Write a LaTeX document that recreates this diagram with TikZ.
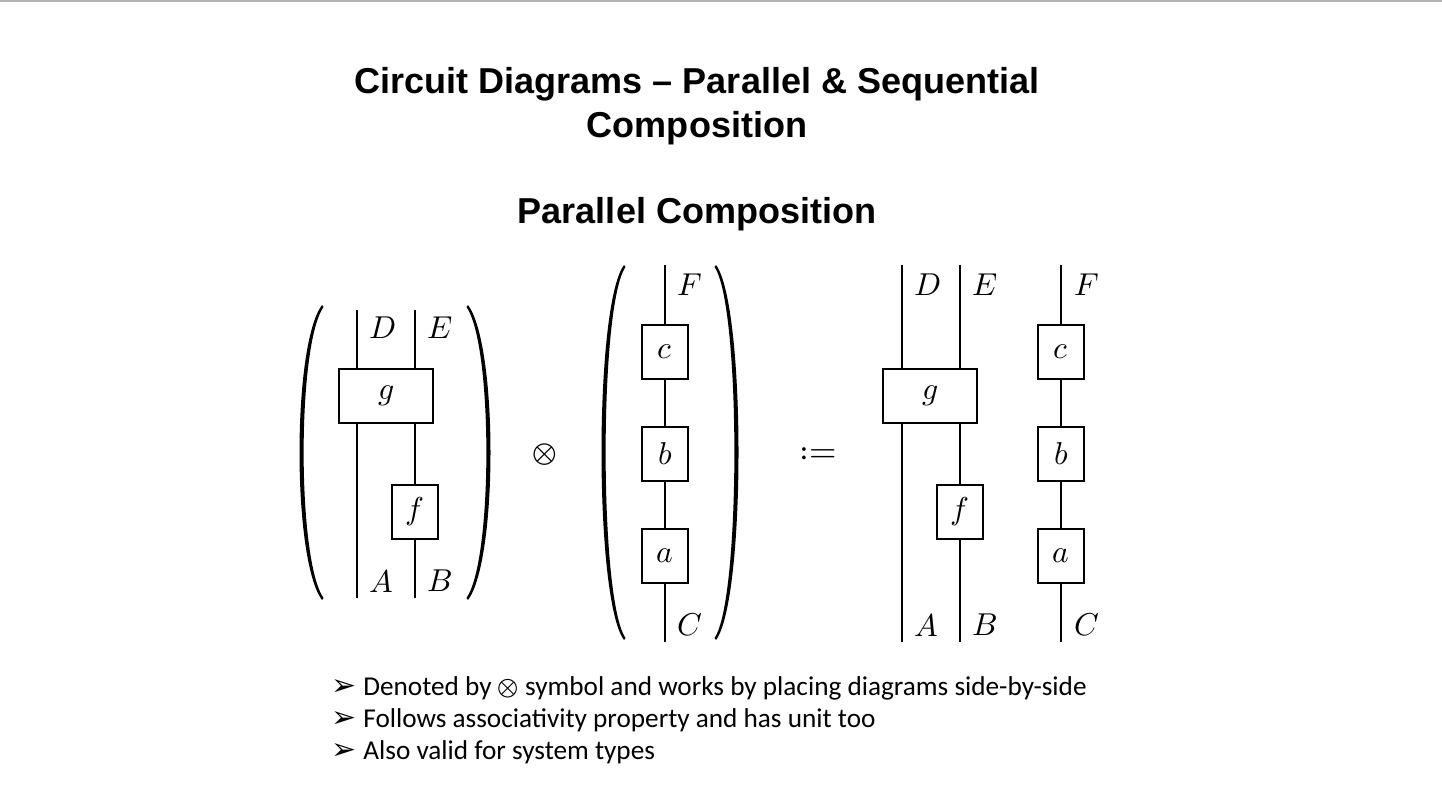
\documentclass[tikz,border=0pt]{standalone}
\usepackage{fontspec}
\setmainfont{Liberation Sans}
\newfontfamily\bodyfont{Carlito}
\newfontfamily\dejavu{DejaVu Sans}
\usepackage{unicode-math}
\setmathfont{Latin Modern Math}
\tikzstyle{boxed} = [rectangle, draw=black, line width=1.2pt, fill=white, minimum width=0.92cm, minimum height=1.08cm, inner sep=0pt, font=\fontsize{18}{20}\selectfont]
\tikzstyle{wide} = [boxed, minimum width=1.88cm]
\tikzstyle{wire} = [line width=1.2pt]
\tikzstyle{lbl} = [font=\fontsize{18}{20}\selectfont, inner sep=0pt]
\tikzstyle{title} = [font=\fontsize{20.5}{25}\selectfont\bfseries, align=center]
\tikzstyle{item} = [font=\fontsize{15.5}{18}\selectfont\bodyfont, anchor=west, inner sep=0pt]
\tikzstyle{paren} = [fill=black]
\newcommand{\leftbrk}[3]{\fill[paren] (#1,#2) .. controls (#1-30,#2+40) and (#1-30,#3-40) .. (#1,#3) -- (#1+1.5,#3-2) .. controls (#1-25,#3-40) and (#1-25,#2+40) .. (#1+1.5,#2+2) -- cycle;}
\newcommand{\rightbrk}[3]{\fill[paren] (#1,#2) .. controls (#1+30,#2+40) and (#1+30,#3-40) .. (#1,#3) -- (#1-1.5,#3-2) .. controls (#1+25,#3-40) and (#1+25,#2+40) .. (#1-1.5,#2+2) -- cycle;}

\begin{document}
\begin{tikzpicture}[x=0.02cm, y=-0.02cm]
		\useasboundingbox (0,0) rectangle (1442,786);
		\draw[gray!60, line width=1pt] (0,1) -- (1442,1);
		
		\node (t1) [title] at (697,106) {Circuit Diagrams – Parallel \& Sequential\\Composition};
		\node (t2) [title] at (697,214) {Parallel Composition};
		
		% left factor
		\coordinate (l1top) at (357,310);
		\coordinate (l1bot) at (357,598);
		\coordinate (l2top) at (415,310);
		\coordinate (l2bot) at (415,598);
		\draw [wire] (l1top) -- (l1bot);
		\draw [wire] (l2top) -- (l2bot);
		\node (g1) [wide] at (386,396) {$g$};
		\node (f1) [boxed] at (415,512) {$f$};
		\node (d1) [lbl] at (383,328) {$D$};
		\node (e1) [lbl] at (440,328) {$E$};
		\node (a1) [lbl] at (381,581) {$A$};
		\node (b1) [lbl] at (440,581) {$B$};
		\leftbrk{322}{305}{600}
		\rightbrk{468}{305}{600}
		
		\node (tensor) [lbl] at (545,455) {$\otimes$};
		
		% middle factor
		\coordinate (mtop) at (665,265);
		\coordinate (mbot) at (665,642);
		\draw [wire] (mtop) -- (mbot);
		\node (c1) [boxed] at (665,352) {$c$};
		\node (bb1) [boxed] at (665,454) {$b$};
		\node (aa1) [boxed] at (665,556) {$a$};
		\node (ff1) [lbl] at (690,285) {$F$};
		\node (cc1) [lbl] at (690,625) {$C$};
		\leftbrk{624}{265}{640}
		\rightbrk{716}{265}{640}
		
		\node (defeq) [lbl, font=\fontsize{20}{22}\selectfont] at (818,455) {$:=$};
		
		% result
		\coordinate (r1top) at (902,265);
		\coordinate (r1bot) at (902,642);
		\coordinate (r2top) at (960,265);
		\coordinate (r2bot) at (960,642);
		\coordinate (r3top) at (1061,265);
		\coordinate (r3bot) at (1061,642);
		\draw [wire] (r1top) -- (r1bot);
		\draw [wire] (r2top) -- (r2bot);
		\draw [wire] (r3top) -- (r3bot);
		\node (g2) [wide] at (930,396) {$g$};
		\node (f2) [boxed] at (960,512) {$f$};
		\node (c2) [boxed] at (1061,352) {$c$};
		\node (bb2) [boxed] at (1061,454) {$b$};
		\node (aa2) [boxed] at (1061,556) {$a$};
		\node (d2) [lbl] at (928,285) {$D$};
		\node (e2) [lbl] at (985,285) {$E$};
		\node (ff2) [lbl] at (1087,285) {$F$};
		\node (a2) [lbl] at (926,625) {$A$};
		\node (b2) [lbl] at (985,625) {$B$};
		\node (cc2) [lbl] at (1087,625) {$C$};
		
		% bullets
		\node (m1) [item] at (331,688) {{\dejavu\fontsize{17}{18}\selectfont ➢}};
		\node (m2) [item] at (331,720) {{\dejavu\fontsize{17}{18}\selectfont ➢}};
		\node (m3) [item] at (331,752) {{\dejavu\fontsize{17}{18}\selectfont ➢}};
		\node (i1) [item] at (363,688) {Denoted by $\otimes$ symbol and works by placing diagrams side-by-side};
		\node (i2) [item] at (363,720) {Follows associativity property and has unit too};
		\node (i3) [item] at (363,752) {Also valid for system types};
\end{tikzpicture}
\end{document}
